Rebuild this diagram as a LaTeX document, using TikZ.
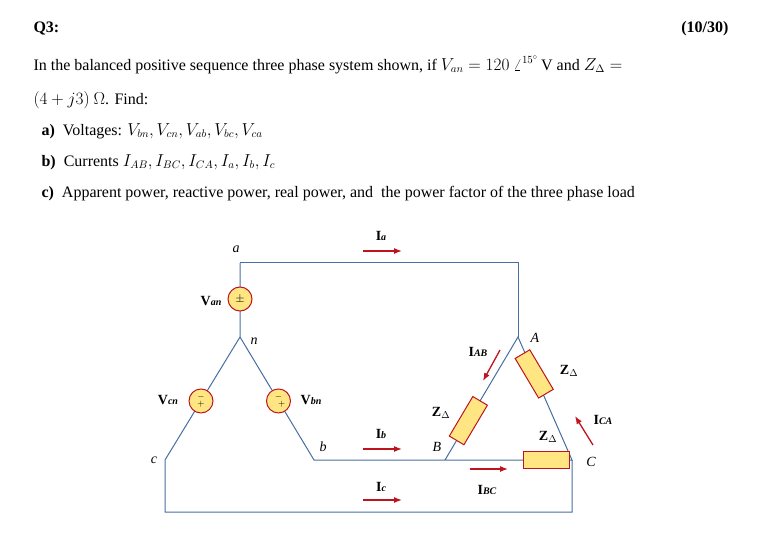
\documentclass[tikz,border=0pt]{standalone}
\usepackage{fontspec}
\setmainfont{Liberation Serif}
\usepackage{amsmath}
\usetikzlibrary{arrows.meta,calc}
\definecolor{wire}{RGB}{70,110,160}
\definecolor{cur}{RGB}{190,20,30}
\definecolor{fillY}{RGB}{255,230,130}
\newcommand{\sublbl}[1]{{\fontsize{10}{10}\selectfont\itshape #1}}
\tikzset{
  w/.style={draw=wire,line width=1pt},
  src/.style={circle,draw=cur,fill=fillY,line width=1pt,minimum size=24pt,inner sep=0pt,font=\bfseries\fontsize{13}{13}\selectfont},
  res/.style={rectangle,draw=cur,fill=fillY,line width=1pt,minimum width=46pt,minimum height=17pt,inner sep=0pt},
  carrow/.style={draw=cur,line width=1.3pt,-{Latex[length=8pt,width=6pt]}},
  lbl/.style={font=\bfseries\fontsize{14}{14}\selectfont},
  ilbl/.style={font=\itshape\fontsize{14}{14}\selectfont},
  txt/.style={anchor=west,font=\fontsize{16}{18}\selectfont}
}
\begin{document}
\begin{tikzpicture}[x=1pt,y=-1pt]
\useasboundingbox (0,0) rectangle (759,534);
\node[txt,font=\bfseries\fontsize{16}{18}\selectfont] (q) at (30,29) {Q3:};
\node[anchor=east,font=\bfseries\fontsize{16}{18}\selectfont] (m) at (732,29) {(10/30)};
\node[txt] (l1) at (30,65) {In the balanced positive sequence three phase system shown, if $V_{an}=120\ \angle^{15^\circ}\,\mathrm{V}$ and $Z_\Delta=$};
\node[txt] (l2) at (30,100) {$(4+j3)\ \Omega$. Find:};
\node[txt] (l3) at (30,131) {\ \ \textbf{a)}\ \ Voltages: $V_{bn}, V_{cn}, V_{ab}, V_{bc}, V_{ca}$};
\node[txt] (l4) at (30,162) {\ \ \textbf{b)}\ \ Currents $I_{AB}, I_{BC}, I_{CA}, I_a, I_b, I_c$};
\node[txt] (l5) at (30,194) {\ \ \textbf{c)}\ \ Apparent power, reactive power, real power, and\ \ the power factor of the three phase load};
% nodes
\coordinate (a) at (240,263);
\coordinate (n) at (240,337);
\coordinate (c) at (165,460);
\coordinate (b) at (314,460);
\coordinate (A) at (518,337);
\coordinate (B) at (445,460);
\coordinate (C) at (572,460);
\coordinate (tr) at (518,263);
\coordinate (bl) at (165,512);
\coordinate (br) at (572,512);
\draw[w] (a) -- (tr) -- (A);
\draw[w] (a) -- (n) -- (c) -- (bl) -- (br) -- (C);
\draw[w] (n) -- (b) -- (C) -- (A) -- (B);
\node[src] (van) at (240,299) {$\pm$};
\node[src] (vcn) at ($(n)!0.52!(c)$) {};
\node[src] (vbn) at ($(n)!0.52!(b)$) {};
\node[font=\bfseries\fontsize{13}{13}\selectfont] at (vcn.center) {$\substack{-\\+}$};
\node[font=\bfseries\fontsize{13}{13}\selectfont] at (vbn.center) {$\substack{-\\\ \ +}$};
\node[res,rotate=59.3] (zab) at ($(A)!0.68!(B)$) {};
\node[res,rotate=-59.3] (zac) at ($(A)!0.3!(C)$) {};
\node[res] (zbc) at (546,460) {};
% labels
\node[ilbl] at (236,249) {a};
\node[ilbl] at (254,341) {n};
\node[ilbl] at (154,460) {c};
\node[ilbl] at (323,447) {b};
\node[ilbl] at (535,338) {A};
\node[ilbl] at (437,447) {B};
\node[ilbl] at (591,462) {C};
\node[lbl] at (211,301) {V\sublbl{an}};
\node[lbl] at (168,400) {V\sublbl{cn}};
\node[lbl] at (311,400) {V\sublbl{bn}};
\node[lbl] at (381,236) {I\sublbl{a}};
\node[lbl] at (381,434) {I\sublbl{b}};
\node[lbl] at (381,487) {I\sublbl{c}};
\node[lbl] at (478,352) {I\sublbl{AB}};
\node[lbl] at (603,420) {I\sublbl{CA}};
\node[lbl] at (487,490) {I\sublbl{BC}};
\node[lbl] at (441,413) {Z$_\Delta$};
\node[lbl] at (569,371) {Z$_\Delta$};
\node[lbl] at (548,437) {Z$_\Delta$};
% current arrows
\coordinate (ia1) at (363,251); \coordinate (ia2) at (402,251);
\coordinate (ib1) at (363,449); \coordinate (ib2) at (402,449);
\coordinate (ic1) at (363,500); \coordinate (ic2) at (402,500);
\coordinate (ibc1) at (470,469); \coordinate (ibc2) at (508,469);
\coordinate (iab1) at (500,350); \coordinate (iab2) at (483,381);
\coordinate (ica1) at (593,445); \coordinate (ica2) at (575,416);
\draw[carrow] (ia1) -- (ia2);
\draw[carrow] (ib1) -- (ib2);
\draw[carrow] (ic1) -- (ic2);
\draw[carrow] (ibc1) -- (ibc2);
\draw[carrow] (iab1) -- (iab2);
\draw[carrow] (ica1) -- (ica2);
\end{tikzpicture}
\end{document}
